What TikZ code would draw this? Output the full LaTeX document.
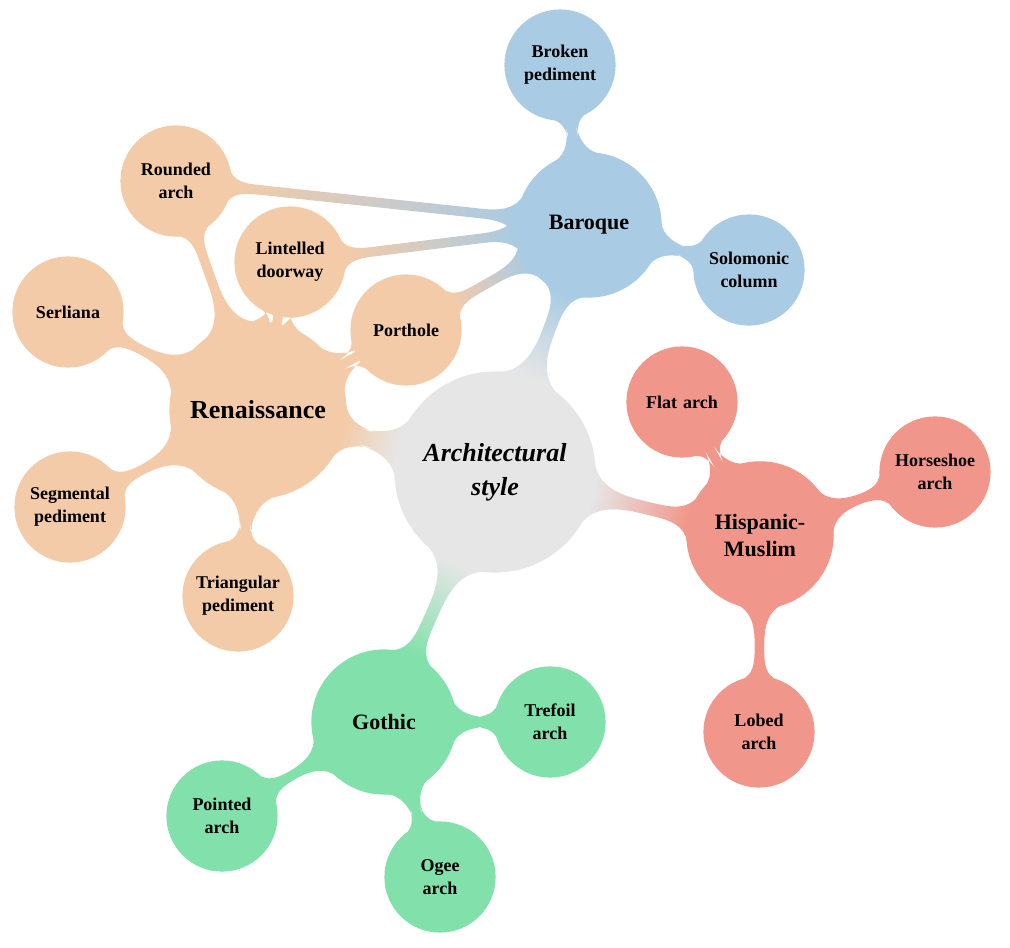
\documentclass[tikz,border=0pt]{standalone}
\usepackage{fontspec}
\setmainfont{Liberation Serif}
\usetikzlibrary{mindmap,backgrounds}
\definecolor{gc}{HTML}{E6E6E6}
\definecolor{bc}{HTML}{A9CBE3}
\definecolor{oc}{HTML}{F4CBA8}
\definecolor{rc}{HTML}{F1968A}
\definecolor{ec}{HTML}{82E0AA}
\tikzset{
 sub/.style={concept, minimum size=110pt, text width=100pt, inner sep=0pt, font=\fontsize{18}{23}\selectfont\bfseries, align=center},
 mid/.style={concept, minimum size=144pt, text width=140pt, inner sep=0pt, font=\fontsize{22}{27}\selectfont\bfseries, align=center},
}
\begin{document}
\begin{tikzpicture}[mindmap, x=1pt, y=-1pt]
\useasboundingbox (0,0) rectangle (1010,948);
\node[concept, concept color=gc, fill=gc, minimum size=200pt, text width=180pt, inner sep=0pt, align=center, font=\fontsize{26}{34}\selectfont\bfseries\itshape] (c) at (495,472) {Architectural\\style};
\node[mid, concept color=bc, fill=bc] (ba) at (589,225) {Baroque};
\node[sub, concept color=bc, fill=bc] (bp) at (560,65) {Broken\\pediment};
\node[sub, concept color=bc, fill=bc] (sc) at (749,270) {Solomonic\\column};
\node[mid, concept color=oc, fill=oc, minimum size=176pt, font=\fontsize{26}{30}\selectfont\bfseries] (re) at (258,410) {Renaissance};
\node[sub, concept color=oc, fill=oc] (ra) at (176,181) {Rounded\\arch};
\node[sub, concept color=oc, fill=oc] (ld) at (290,262) {Lintelled\\doorway};
\node[sub, concept color=oc, fill=oc] (ph) at (406,330) {Porthole};
\node[sub, concept color=oc, fill=oc] (se) at (68,312) {Serliana};
\node[sub, concept color=oc, fill=oc] (sp) at (70,507) {Segmental\\pediment};
\node[sub, concept color=oc, fill=oc] (tp) at (238,596) {Triangular\\pediment};
\node[mid, concept color=rc, fill=rc] (hm) at (760,535) {Hispanic-\\Muslim};
\node[sub, concept color=rc, fill=rc] (fa) at (682,402) {Flat arch};
\node[sub, concept color=rc, fill=rc] (ha) at (935,472) {Horseshoe\\arch};
\node[sub, concept color=rc, fill=rc] (la) at (759,732) {Lobed\\arch};
\node[mid, concept color=ec, fill=ec] (go) at (384,722) {Gothic};
\node[sub, concept color=ec, fill=ec] (ta) at (550,722) {Trefoil\\arch};
\node[sub, concept color=ec, fill=ec] (pa) at (222,816) {Pointed\\arch};
\node[sub, concept color=ec, fill=ec] (oa) at (440,877) {Ogee\\arch};
\begin{scope}[on background layer]
\path (c) to[circle connection bar switch color=from (gc) to (bc)] (ba);
\path (c) to[circle connection bar switch color=from (gc) to (oc)] (re);
\path (c) to[circle connection bar switch color=from (gc) to (rc)] (hm);
\path (c) to[circle connection bar switch color=from (gc) to (ec)] (go);
\path (ba) to[circle connection bar switch color=from (bc) to (bc)] (bp);
\path (ba) to[circle connection bar switch color=from (bc) to (bc)] (sc);
\foreach \n in {ra,ld,ph,se,sp,tp}
  \path (re) to[circle connection bar switch color=from (oc) to (oc)] (\n);
\foreach \n in {ra,ld,ph}
  \path (\n) to[circle connection bar switch color=from (oc) to (bc)] (ba);
\foreach \n in {fa,ha,la}
  \path (hm) to[circle connection bar switch color=from (rc) to (rc)] (\n);
\foreach \n in {ta,pa,oa}
  \path (go) to[circle connection bar switch color=from (ec) to (ec)] (\n);
\end{scope}
\end{tikzpicture}
\end{document}
